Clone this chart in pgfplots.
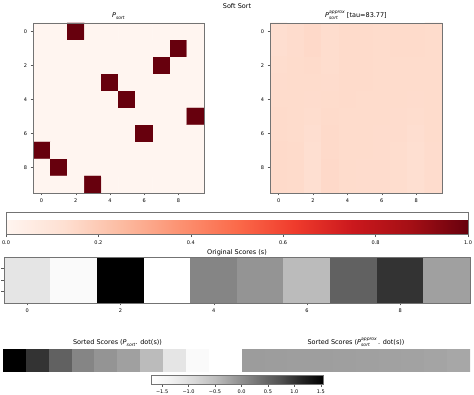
\documentclass[border=0pt]{standalone}
\usepackage{fontspec}
\setmainfont{DejaVu Sans}
\usepackage{pgfplots}
\pgfplotsset{compat=1.18}
\newcommand{\Psort}{\textit{P}\raisebox{-0.28em}{\fontsize{4.5}{5}\selectfont\textit{sort}}}
\newcommand{\Papprox}{\textit{P}\rlap{\raisebox{-0.3em}{\fontsize{4.5}{5}\selectfont\textit{sort}}}\raisebox{0.62em}{\fontsize{4.5}{5}\selectfont\textit{approx}}}
\pgfplotsset{
  colormap={reds}{rgb255=(255,245,240) rgb255=(254,224,210) rgb255=(252,187,161) rgb255=(252,146,114) rgb255=(251,106,74) rgb255=(239,59,44) rgb255=(203,24,29) rgb255=(165,15,21) rgb255=(103,0,13)},
  colormap={greys}{rgb255=(255,255,255) rgb255=(240,240,240) rgb255=(217,217,217) rgb255=(189,189,189) rgb255=(150,150,150) rgb255=(115,115,115) rgb255=(82,82,82) rgb255=(37,37,37) rgb255=(0,0,0)},
  myax/.style={scale only axis, anchor=south west,
    font=\fontsize{5}{6}\selectfont,
    axis line style={black!55, line width=0.5pt},
    tick style={black!65, line width=0.4pt},
    tick align=outside, major tick length=2.5pt,
    /pgf/number format/assume math mode=true,
    title style={font=\fontsize{6.5}{8}\selectfont, at={(0.5,1)}, anchor=south, inner sep=1pt, yshift=-4pt},
    enlargelimits=false, axis on top, xtick pos=bottom, ytick pos=left},
  strip/.style={surf, shader=flat corner, mesh/cols=11, point meta=explicit},
}
\begin{document}
\begin{tikzpicture}
\useasboundingbox (0,0) rectangle (474pt,395pt);
\node[font=\fontsize{6.5}{8}\selectfont] at (237pt,389pt) {Soft Sort};

% P_sort heatmap (+ Reds colorbar)
\begin{axis}[myax, at={(33pt,202pt)}, width=171pt, height=170pt,
  xmin=-0.5, xmax=9.5, ymin=-0.5, ymax=9.5, y dir=reverse,
  xtick={0,2,...,8}, ytick={0,2,...,8},
  colormap name=reds, point meta min=0, point meta max=1,
  title={\Psort},
  colorbar horizontal,
  colorbar style={at={(parent axis.south west)}, anchor=north west,
    xshift=-27pt, yshift=-11pt, scale only axis, width=462pt, height=22pt,
    font=\fontsize{5}{6}\selectfont,
    axis line style={black!55, line width=0.5pt},
    tick style={black!65, line width=0.4pt}, tick align=outside, major tick length=2.5pt,
    xtick={0,0.2,0.4,0.6,0.8,1}, xticklabels={0.0,0.2,0.4,0.6,0.8,1.0},
    xtick pos=bottom, xticklabel pos=lower, ytick=\empty}]
\addplot[matrix plot*, mesh/cols=10, point meta=explicit] table[row sep=\\, meta=c]{
x y c\\
0 0 0\\1 0 0\\2 0 1\\3 0 0\\4 0 0\\5 0 0\\6 0 0\\7 0 0\\8 0 0\\9 0 0\\
0 1 0\\1 1 0\\2 1 0\\3 1 0\\4 1 0\\5 1 0\\6 1 0\\7 1 0\\8 1 1\\9 1 0\\
0 2 0\\1 2 0\\2 2 0\\3 2 0\\4 2 0\\5 2 0\\6 2 0\\7 2 1\\8 2 0\\9 2 0\\
0 3 0\\1 3 0\\2 3 0\\3 3 0\\4 3 1\\5 3 0\\6 3 0\\7 3 0\\8 3 0\\9 3 0\\
0 4 0\\1 4 0\\2 4 0\\3 4 0\\4 4 0\\5 4 1\\6 4 0\\7 4 0\\8 4 0\\9 4 0\\
0 5 0\\1 5 0\\2 5 0\\3 5 0\\4 5 0\\5 5 0\\6 5 0\\7 5 0\\8 5 0\\9 5 1\\
0 6 0\\1 6 0\\2 6 0\\3 6 0\\4 6 0\\5 6 0\\6 6 1\\7 6 0\\8 6 0\\9 6 0\\
0 7 1\\1 7 0\\2 7 0\\3 7 0\\4 7 0\\5 7 0\\6 7 0\\7 7 0\\8 7 0\\9 7 0\\
0 8 0\\1 8 1\\2 8 0\\3 8 0\\4 8 0\\5 8 0\\6 8 0\\7 8 0\\8 8 0\\9 8 0\\
0 9 0\\1 9 0\\2 9 0\\3 9 1\\4 9 0\\5 9 0\\6 9 0\\7 9 0\\8 9 0\\9 9 0\\
};
\end{axis}

% P_sort approx heatmap
\begin{axis}[myax, at={(270pt,202pt)}, width=172pt, height=170pt,
  xmin=-0.5, xmax=9.5, ymin=-0.5, ymax=9.5, y dir=reverse,
  xtick={0,2,...,8}, ytick={0,2,...,8},
  colormap name=reds, point meta min=0, point meta max=1,
  title={\Papprox\ [tau=83.77]}]
\addplot[matrix plot*, mesh/cols=10, point meta=explicit] table[row sep=\\, meta=c]{
x y c\\
0 0 0.131\\1 0 0.137\\2 0 0.149\\3 0 0.134\\4 0 0.143\\5 0 0.143\\6 0 0.140\\7 0 0.143\\8 0 0.143\\9 0 0.140\\
0 1 0.131\\1 1 0.137\\2 1 0.149\\3 1 0.134\\4 1 0.143\\5 1 0.143\\6 1 0.140\\7 1 0.143\\8 1 0.143\\9 1 0.140\\
0 2 0.134\\1 2 0.140\\2 2 0.143\\3 2 0.134\\4 2 0.143\\5 2 0.143\\6 2 0.140\\7 2 0.140\\8 2 0.140\\9 2 0.140\\
0 3 0.137\\1 3 0.140\\2 3 0.140\\3 3 0.137\\4 3 0.143\\5 3 0.143\\6 3 0.140\\7 3 0.140\\8 3 0.140\\9 3 0.140\\
0 4 0.140\\1 4 0.140\\2 4 0.137\\3 4 0.140\\4 4 0.143\\5 4 0.140\\6 4 0.140\\7 4 0.140\\8 4 0.137\\9 4 0.140\\
0 5 0.143\\1 5 0.140\\2 5 0.134\\3 5 0.143\\4 5 0.140\\5 5 0.140\\6 5 0.140\\7 5 0.137\\8 5 0.134\\9 5 0.140\\
0 6 0.143\\1 6 0.140\\2 6 0.131\\3 6 0.146\\4 6 0.140\\5 6 0.140\\6 6 0.137\\7 6 0.137\\8 6 0.131\\9 6 0.140\\
0 7 0.146\\1 7 0.143\\2 7 0.128\\3 7 0.146\\4 7 0.140\\5 7 0.140\\6 7 0.137\\7 7 0.134\\8 7 0.128\\9 7 0.137\\
0 8 0.146\\1 8 0.143\\2 8 0.128\\3 8 0.149\\4 8 0.140\\5 8 0.137\\6 8 0.137\\7 8 0.134\\8 8 0.128\\9 8 0.137\\
0 9 0.146\\1 9 0.143\\2 9 0.128\\3 9 0.149\\4 9 0.140\\5 9 0.137\\6 9 0.137\\7 9 0.134\\8 9 0.128\\9 9 0.137\\
};
\end{axis}

% Original scores (+ Greys colorbar); corners of the cells, last column repeats
\begin{axis}[myax, at={(4pt,92pt)}, width=466pt, height=46pt,
  xmin=-0.5, xmax=9.5, ymin=-0.5, ymax=0.5,
  xtick={0,2,...,8}, ytick={-0.25,0,0.25}, yticklabels={},
  colormap name=greys, point meta min=-1.71, point meta max=1.54,
  title={Original Scores (s)}, title style={yshift=-2.5pt},
  colorbar horizontal,
  colorbar style={at={(parent axis.south west)}, anchor=north west,
    xshift=147pt, yshift=-64pt, scale only axis, width=172pt, height=9pt,
    font=\fontsize{5}{6}\selectfont,
    axis line style={black!55, line width=0.5pt},
    tick style={black!65, line width=0.4pt}, tick align=outside, major tick length=2pt,
    xtick={-1.5,-1,-0.5,0,0.5,1,1.5}, xticklabels={−1.5,−1.0,−0.5,0.0,0.5,1.0,1.5},
    xtick pos=bottom, xticklabel pos=lower, ytick=\empty}]
\addplot[strip] table[row sep=\\, meta=c]{
x y c\\
-0.5 -0.5 -1.11\\0.5 -0.5 -1.57\\1.5 -0.5 1.54\\2.5 -0.5 -1.71\\3.5 -0.5 0.11\\4.5 -0.5 -0.06\\5.5 -0.5 -0.47\\6.5 -0.5 0.54\\7.5 -0.5 1.01\\8.5 -0.5 -0.19\\9.5 -0.5 -0.19\\
-0.5 0.5 -1.11\\0.5 0.5 -1.57\\1.5 0.5 1.54\\2.5 0.5 -1.71\\3.5 0.5 0.11\\4.5 0.5 -0.06\\5.5 0.5 -0.47\\6.5 0.5 0.54\\7.5 0.5 1.01\\8.5 0.5 -0.19\\9.5 0.5 -0.19\\
};
\end{axis}

% Sorted scores (exact)
\begin{axis}[myax, at={(3pt,23pt)}, width=229pt, height=23pt, hide axis,
  xmin=-0.5, xmax=9.5, ymin=-0.5, ymax=0.5,
  colormap name=greys, point meta min=-1.71, point meta max=1.54,
  title={Sorted Scores (\Psort. dot(s))}, title style={yshift=-1pt}]
\addplot[strip] table[row sep=\\, meta=c]{
x y c\\
-0.5 -0.5 1.54\\0.5 -0.5 1.01\\1.5 -0.5 0.54\\2.5 -0.5 0.11\\3.5 -0.5 -0.06\\4.5 -0.5 -0.19\\5.5 -0.5 -0.47\\6.5 -0.5 -1.11\\7.5 -0.5 -1.57\\8.5 -0.5 -1.71\\9.5 -0.5 -1.71\\
-0.5 0.5 1.54\\0.5 0.5 1.01\\1.5 0.5 0.54\\2.5 0.5 0.11\\3.5 0.5 -0.06\\4.5 0.5 -0.19\\5.5 0.5 -0.47\\6.5 0.5 -1.11\\7.5 0.5 -1.57\\8.5 0.5 -1.71\\9.5 0.5 -1.71\\
};
\end{axis}

% Sorted scores (approx)
\begin{axis}[myax, at={(242pt,23pt)}, width=228pt, height=23pt, hide axis,
  xmin=-0.5, xmax=9.5, ymin=-0.5, ymax=0.5,
  colormap name=greys, point meta min=-1.71, point meta max=1.54,
  title={Sorted Scores (\Papprox\,. dot(s))}, title style={yshift=-1pt}]
\addplot[strip] table[row sep=\\, meta=c]{
x y c\\
-0.5 -0.5 -0.15\\0.5 -0.5 -0.16\\1.5 -0.5 -0.17\\2.5 -0.5 -0.17\\3.5 -0.5 -0.18\\4.5 -0.5 -0.19\\5.5 -0.5 -0.20\\6.5 -0.5 -0.21\\7.5 -0.5 -0.23\\8.5 -0.5 -0.26\\9.5 -0.5 -0.26\\
-0.5 0.5 -0.15\\0.5 0.5 -0.16\\1.5 0.5 -0.17\\2.5 0.5 -0.17\\3.5 0.5 -0.18\\4.5 0.5 -0.19\\5.5 0.5 -0.20\\6.5 0.5 -0.21\\7.5 0.5 -0.23\\8.5 0.5 -0.26\\9.5 0.5 -0.26\\
};
\end{axis}
\end{tikzpicture}
\end{document}
